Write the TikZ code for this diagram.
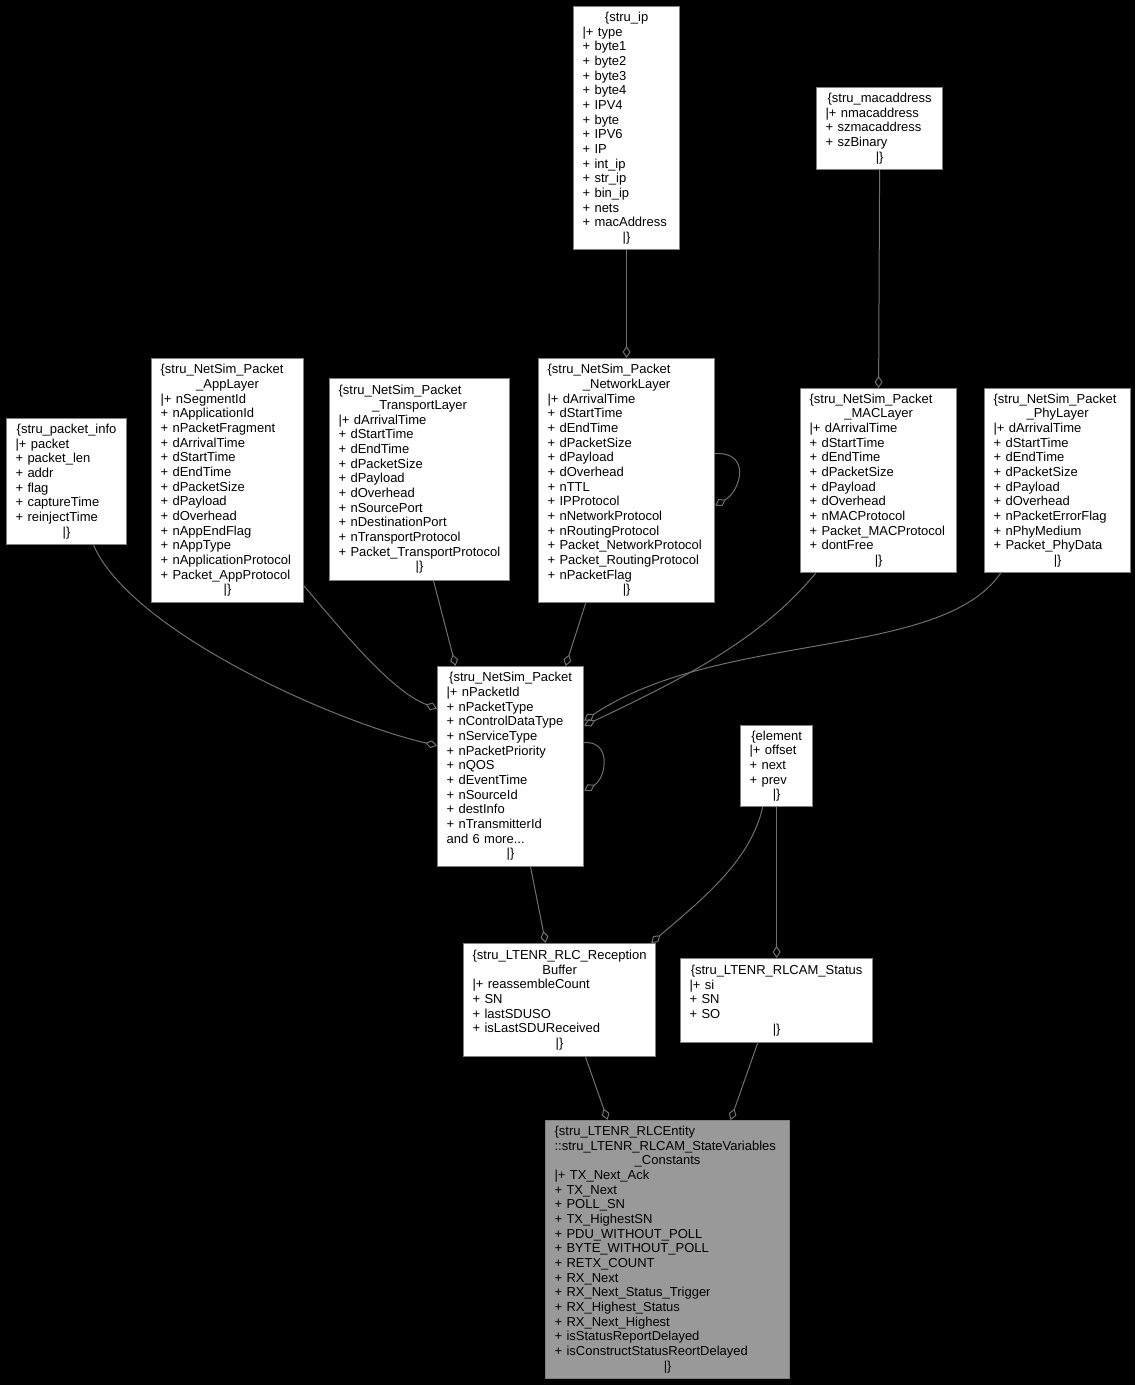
\documentclass[tikz,border=0pt]{standalone}
\usepackage{fontspec}
\setmainfont{Liberation Sans}
\usetikzlibrary{arrows.meta}
\definecolor{boxgray}{RGB}{128,128,128}
\definecolor{edgegray}{RGB}{112,112,112}
\definecolor{mainfill}{RGB}{153,153,153}
\newcommand{\ctrline}[1]{\hspace*{\fill}#1\hspace*{\fill}\null}

\begin{document}
\begin{tikzpicture}[x=0.5pt,y=-0.5pt,
  cls/.style={draw=boxgray,fill=white,line width=0.6pt,anchor=north west,inner xsep=4.5pt,inner ysep=0pt,align=left,font=\fontsize{6.5}{7.33}\selectfont},
  agg/.style={draw=edgegray,line width=0.5pt,-{Diamond[open,length=6pt,width=4pt]}}]

  \fill[black] (0,0) rectangle (1135,1385);
  \useasboundingbox (0,0) rectangle (1135,1385);

  \node[cls,text width=44pt,minimum height=121.5pt] (ip) at (573,6)
    {\ctrline{\{stru\_ip}\\|+~type\\+~byte1\\+~byte2\\+~byte3\\+~byte4\\+~IPV4\\+~byte\\+~IPV6\\+~IP\\+~int\_ip\\+~str\_ip\\+~bin\_ip\\+~nets\\+~macAddress\\\ctrline{|\}}};

  \node[cls,text width=54pt,minimum height=41pt] (mac) at (816,87)
    {\ctrline{\{stru\_macaddress}\\|+~nmacaddress\\+~szmacaddress\\+~szBinary\\\ctrline{|\}}};

  \node[cls,text width=51pt,minimum height=63pt] (pinfo) at (6,418)
    {\ctrline{\{stru\_packet\_info}\\|+~packet\\+~packet\_len\\+~addr\\+~flag\\+~captureTime\\+~reinjectTime\\\ctrline{|\}}};

  \node[cls,text width=67pt,minimum height=122pt] (app) at (151,358)
    {\{stru\_NetSim\_Packet\\\ctrline{\_AppLayer}\\|+~nSegmentId\\+~nApplicationId\\+~nPacketFragment\\+~dArrivalTime\\+~dStartTime\\+~dEndTime\\+~dPacketSize\\+~dPayload\\+~dOverhead\\+~nAppEndFlag\\+~nAppType\\+~nApplicationProtocol\\+~Packet\_AppProtocol\\\ctrline{|\}}};

  \node[cls,text width=81pt,minimum height=101pt] (trans) at (329,378)
    {\{stru\_NetSim\_Packet\\\ctrline{\_TransportLayer}\\|+~dArrivalTime\\+~dStartTime\\+~dEndTime\\+~dPacketSize\\+~dPayload\\+~dOverhead\\+~nSourcePort\\+~nDestinationPort\\+~nTransportProtocol\\+~Packet\_TransportProtocol\\\ctrline{|\}}};

  \node[cls,text width=79pt,minimum height=122pt] (net) at (538,358)
    {\{stru\_NetSim\_Packet\\\ctrline{\_NetworkLayer}\\|+~dArrivalTime\\+~dStartTime\\+~dEndTime\\+~dPacketSize\\+~dPayload\\+~dOverhead\\+~nTTL\\+~IPProtocol\\+~nNetworkProtocol\\+~nRoutingProtocol\\+~Packet\_NetworkProtocol\\+~Packet\_RoutingProtocol\\+~nPacketFlag\\\ctrline{|\}}};

  \node[cls,text width=69pt,minimum height=92pt] (macl) at (800,388)
    {\{stru\_NetSim\_Packet\\\ctrline{\_MACLayer}\\|+~dArrivalTime\\+~dStartTime\\+~dEndTime\\+~dPacketSize\\+~dPayload\\+~dOverhead\\+~nMACProtocol\\+~Packet\_MACProtocol\\+~dontFree\\\ctrline{|\}}};

  \node[cls,text width=64pt,minimum height=92pt] (phy) at (984,388)
    {\{stru\_NetSim\_Packet\\\ctrline{\_PhyLayer}\\|+~dArrivalTime\\+~dStartTime\\+~dEndTime\\+~dPacketSize\\+~dPayload\\+~dOverhead\\+~nPacketErrorFlag\\+~nPhyMedium\\+~Packet\_PhyData\\\ctrline{|\}}};

  \node[cls,text width=64pt,minimum height=100pt] (pkt) at (437,666)
    {\ctrline{\{stru\_NetSim\_Packet}\\|+~nPacketId\\+~nPacketType\\+~nControlDataType\\+~nServiceType\\+~nPacketPriority\\+~nQOS\\+~dEventTime\\+~nSourceId\\+~destInfo\\+~nTransmitterId\\and~6~more...\\\ctrline{|\}}};

  \node[cls,text width=27pt,minimum height=40.5pt] (elem) at (740,725)
    {\ctrline{\{element}\\|+~offset\\+~next\\+~prev\\\ctrline{|\}}};

  \node[cls,text width=87pt,minimum height=56.5pt] (recv) at (463,943)
    {\{stru\_LTENR\_RLC\_Reception\\\ctrline{Buffer}\\|+~reassembleCount\\+~SN\\+~lastSDUSO\\+~isLastSDUReceived\\\ctrline{|\}}};

  \node[cls,text width=87pt,minimum height=42pt] (status) at (680,958)
    {\ctrline{\{stru\_LTENR\_RLCAM\_Status}\\|+~si\\+~SN\\+~SO\\\ctrline{|\}}};

  \node[cls,fill=mainfill,text width=113pt,minimum height=129pt] (state) at (545,1120)
    {\{stru\_LTENR\_RLCEntity\\::stru\_LTENR\_RLCAM\_StateVariables\\\ctrline{\_Constants}\\|+~TX\_Next\_Ack\\+~TX\_Next\\+~POLL\_SN\\+~TX\_HighestSN\\+~PDU\_WITHOUT\_POLL\\+~BYTE\_WITHOUT\_POLL\\+~RETX\_COUNT\\+~RX\_Next\\+~RX\_Next\_Status\_Trigger\\+~RX\_Highest\_Status\\+~RX\_Next\_Highest\\+~isStatusReportDelayed\\+~isConstructStatusReortDelayed\\\ctrline{|\}}};

  \path [every edge/.style={agg}]
    (ip.south) edge (net.north)
    (mac.south) edge (macl.north)
    ([xshift=7pt]trans.south) edge ([xshift=-27.5pt]pkt.north)
    ([xshift=-20.5pt]net.south) edge ([xshift=27.5pt]pkt.north)
    ([xshift=10pt]pkt.south) edge ([xshift=-7pt]recv.north)
    (elem.south) edge (status.north)
    ([xshift=13pt]recv.south) edge ([xshift=-30pt]state.north)
    ([xshift=-9.5pt]status.south) edge ([xshift=31.5pt]state.north);

  \draw[agg] ([yshift=13.5pt]net.east) .. controls +(36,-2) and +(26,-15) .. ([yshift=-12.5pt]net.east);
  \draw[agg] ([yshift=12pt]pkt.east) .. controls +(28,-2) and +(22,-12) .. ([yshift=-12pt]pkt.east);
  \draw[agg] ([xshift=13.5pt]pinfo.south) .. controls +(37,85) and +(-107,-25) .. ([yshift=10.5pt]pkt.west);
  \draw[agg] ([yshift=8.5pt]app.south east) .. controls +(37,43) and +(-47,-18) .. ([yshift=29pt]pkt.west);
  \draw[agg] ([xshift=-31.5pt]macl.south) .. controls +(-55,67) and +(95,-45) .. ([yshift=20.5pt]pkt.east);
  \draw[agg] ([xshift=-28.5pt]phy.south) .. controls +(-60,87) and +(135,-90) .. ([yshift=23pt]pkt.east);
  \draw[agg] ([xshift=-7pt]elem.south) .. controls +(-12,54) and +(50,-43) .. ([xshift=-2.5pt]recv.north east);

\end{tikzpicture}
\end{document}
